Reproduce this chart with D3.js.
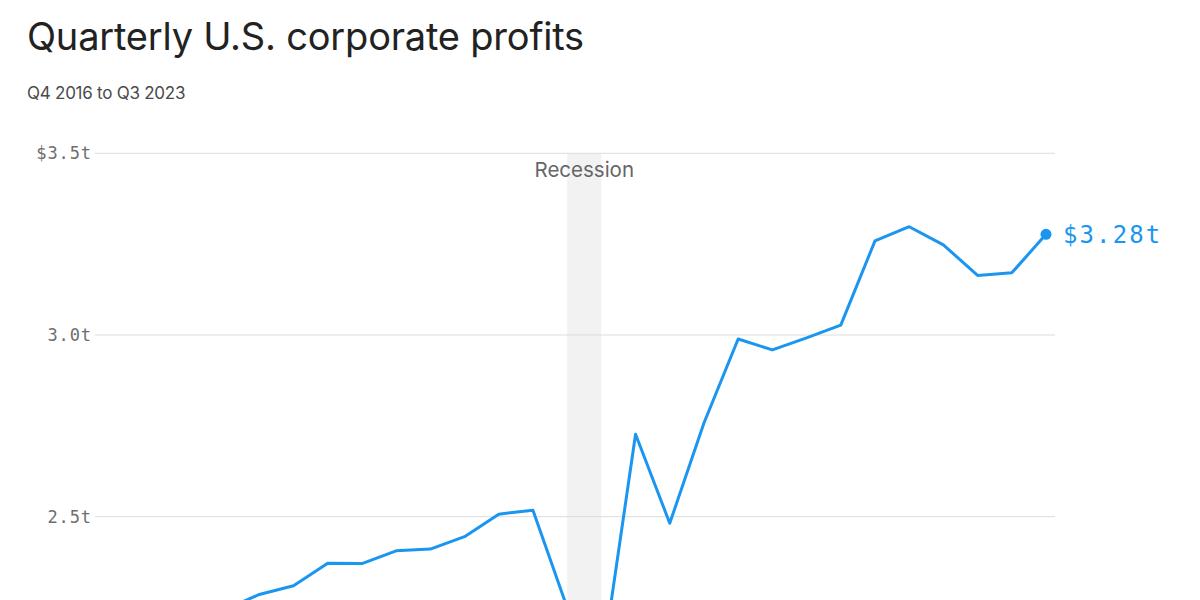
<!DOCTYPE html>
<html>
<head>
<meta charset="utf-8">
<script src="https://cdn.jsdelivr.net/npm/d3@7"></script>
<style>
  html, body { margin: 0; padding: 0; background: #fff; overflow: hidden; }
  svg { display: block; }
</style>
</head>
<body>
<svg id="chart" width="1200" height="600"></svg>
<script>
const quarters = [
  "Q4 2016","Q1 2017","Q2 2017","Q3 2017","Q4 2017",
  "Q1 2018","Q2 2018","Q3 2018","Q4 2018",
  "Q1 2019","Q2 2019","Q3 2019","Q4 2019",
  "Q1 2020","Q2 2020","Q3 2020","Q4 2020",
  "Q1 2021","Q2 2021","Q3 2021","Q4 2021",
  "Q1 2022","Q2 2022","Q3 2022","Q4 2022",
  "Q1 2023","Q2 2023","Q3 2023"
];
const profits = [
  2.16, 2.15, 2.19, 2.245, 2.286,
  2.310, 2.372, 2.371, 2.406,
  2.411, 2.445, 2.507, 2.518,
  2.25, 2.08, 2.727, 2.482,
  2.758, 2.989, 2.959, 2.992,
  3.027, 3.259, 3.298, 3.248,
  3.164, 3.171, 3.277
];
const yTicks = [2.5, 3.0, 3.5];
const yTickLabels = ["2.5t", "3.0t", "$3.5t"];
const recession = ["Q1 2020", "Q2 2020"];
const title = "Quarterly U.S. corporate profits";
const subtitle = "Q4 2016 to Q3 2023";
const endLabel = "$3.28t";

const svg = d3.select("#chart");
const BLUE = "#1b96f0";

const x = d3.scalePoint().domain(quarters).range([122.5, 1046]);
const y = d3.scaleLinear().domain([2.0, 3.5]).range([698.4, 153.3]);

// title
svg.append("text").attr("x", 27).attr("y", 50)
  .attr("font-family", "Inter, 'Noto Sans', sans-serif")
  .attr("font-size", 38).attr("fill", "#222").attr("letter-spacing", -0.2)
  .text(title);
svg.append("text").attr("x", 27).attr("y", 99)
  .attr("font-family", "Inter, 'Noto Sans', sans-serif")
  .attr("font-size", 17).attr("fill", "#4a4a4a").attr("letter-spacing", -0.25)
  .text(subtitle);

// recession band
svg.append("rect")
  .attr("x", x(recession[0]))
  .attr("width", x(recession[1]) - x(recession[0]))
  .attr("y", y(3.5))
  .attr("height", 600 - y(3.5))
  .attr("fill", "#f2f2f2");

// gridlines
const grid = svg.append("g");
grid.selectAll("line").data(yTicks).join("line")
  .attr("x1", 95).attr("x2", 1055)
  .attr("y1", d => y(d)).attr("y2", d => y(d))
  .attr("stroke", "#dcdcdc").attr("stroke-width", 1);

grid.selectAll("text").data(yTicks).join("text")
  .attr("x", 92).attr("y", d => y(d) + 6)
  .attr("text-anchor", "end")
  .attr("font-family", "'DejaVu Sans Mono', monospace")
  .attr("font-size", 17).attr("letter-spacing", 0.9)
  .attr("fill", "#6e6e6e")
  .text((d, i) => yTickLabels[i]);

// recession label
svg.append("text")
  .attr("x", (x(recession[0]) + x(recession[1])) / 2)
  .attr("y", 177)
  .attr("text-anchor", "middle")
  .attr("font-family", "Inter, 'Noto Sans', sans-serif")
  .attr("font-size", 20.5).attr("fill", "#666")
  .text("Recession");

// line
const line = d3.line().x((d, i) => x(quarters[i])).y(d => y(d));
svg.append("path").datum(profits)
  .attr("d", line)
  .attr("fill", "none").attr("stroke", BLUE)
  .attr("stroke-width", 3).attr("stroke-linejoin", "round");

// end dot + label
const last = profits.length - 1;
svg.append("circle")
  .attr("cx", x(quarters[last])).attr("cy", y(profits[last]))
  .attr("r", 5.5).attr("fill", BLUE);
svg.append("text")
  .attr("x", x(quarters[last]) + 17).attr("y", y(profits[last]) + 8.5)
  .attr("font-family", "'DejaVu Sans Mono', monospace")
  .attr("font-size", 24).attr("letter-spacing", 2.1)
  .attr("fill", BLUE)
  .text(endLabel);
</script>
</body>
</html>
